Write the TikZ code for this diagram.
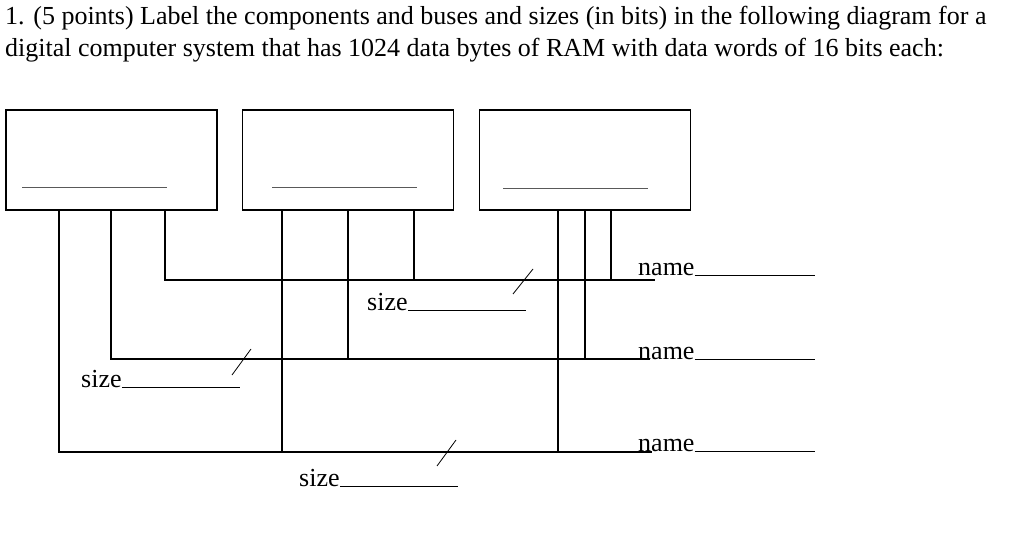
\documentclass[tikz,border=0pt]{standalone}
\usepackage{fontspec}
\setmainfont{Liberation Serif}
\usetikzlibrary{positioning}
\tikzset{
  unit/.style={draw, line width=1.4pt, minimum width=211pt, minimum height=100pt, inner sep=0pt},
  wire/.style={line width=1.4pt},
  blank/.style={line width=0.6pt, gray!70!black},
  lbl/.style={font=\fontsize{26}{30}\selectfont, inner sep=0pt, anchor=base west}
}
\begin{document}
\begin{tikzpicture}[x=1pt,y=-1pt]
    \useasboundingbox (0,0) rectangle (1024,548);
    % question text
    \node[lbl] (q1) at (5,25) {1. (5 points) Label the components and buses and sizes (in bits) in the following diagram for a};
    \node[lbl] (q2) at (5,57) {digital computer system that has 1024 data bytes of RAM with data words of 16 bits each:};
    % the three units
    \node[unit] (u1) at (111.5,160) {};
    \node[unit] (u2) at (348,160) {};
    \node[unit] (u3) at (585,160) {};
    \draw[blank] (22,187) -- (167,187);
    \draw[blank] (272,187) -- (417,187);
    \draw[blank] (503,188) -- (648,188);
    % bus ends
    \coordinate (tb) at (655,280);
    \coordinate (mb) at (650,359);
    \coordinate (bb) at (652,452);
    % top bus
    \draw[wire] (165,210) -- (165,280) -- (tb);
    \draw[wire] (414,210) -- (414,280);
    \draw[wire] (611,210) -- (611,280);
    % middle bus
    \draw[wire] (111,210) -- (111,359) -- (mb);
    \draw[wire] (348,210) -- (348,359);
    \draw[wire] (585,210) -- (585,359);
    % bottom bus
    \draw[wire] (59,210) -- (59,452) -- (bb);
    \draw[wire] (282,210) -- (282,452);
    \draw[wire] (558,210) -- (558,452);
    % slashes
    \draw[line width=0.8pt] (513,294) -- (533,269);
    \draw[line width=0.8pt] (232,375) -- (251,349);
    \draw[line width=0.8pt] (437,466) -- (456,440);
    % size labels
    \node[lbl] (s1) at (367,310) {size};
    \draw[blank,black] (s1.base east) -- (526,310 |- s1.base);
    \node[lbl] (s2) at (81,387) {size};
    \draw[blank,black] (s2.base east) -- (240,387 |- s2.base);
    \node[lbl] (s3) at (299,486) {size};
    \draw[blank,black] (s3.base east) -- (458,486 |- s3.base);
    % name labels
    \node[lbl] (n1) at (638,275) {name};
    \draw[blank,black] (n1.base east) -- (815,275 |- n1.base);
    \node[lbl] (n2) at (638,359) {name};
    \draw[blank,black] (n2.base east) -- (815,359 |- n2.base);
    \node[lbl] (n3) at (638,451) {name};
    \draw[blank,black] (n3.base east) -- (815,451 |- n3.base);
\end{tikzpicture}
\end{document}
